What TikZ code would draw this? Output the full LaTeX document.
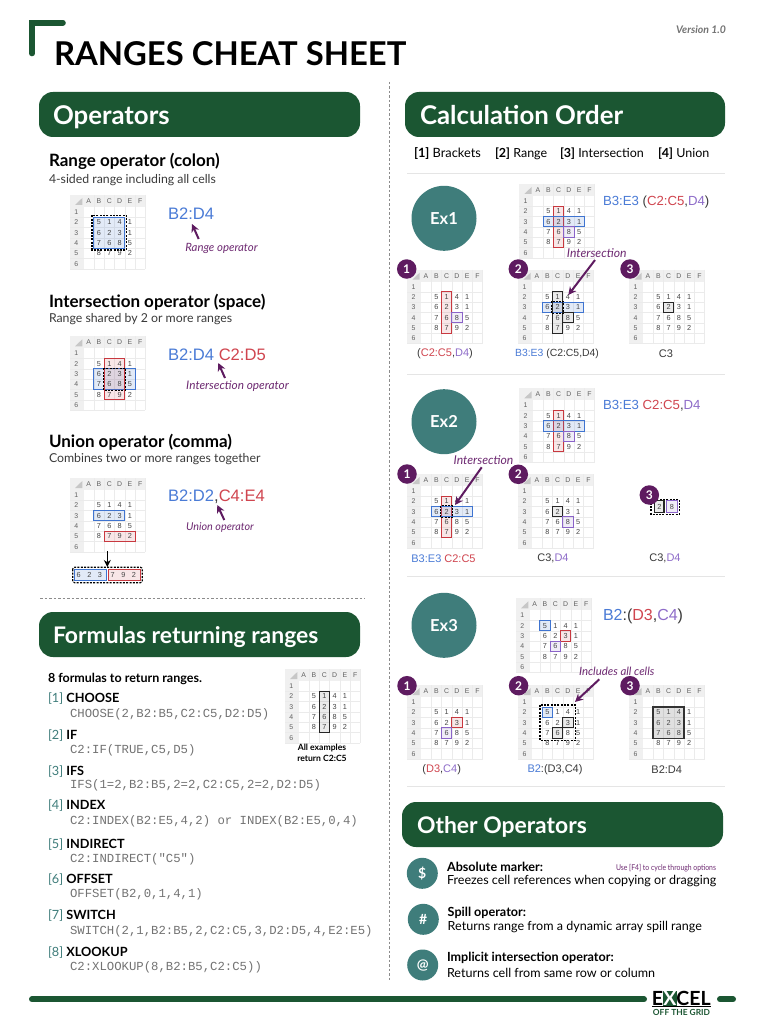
\documentclass[tikz,border=0pt]{standalone}
\usepackage{fontspec}
\setmainfont{Lato}
\newfontfamily\fsans{Liberation Sans}
\newfontfamily\fmono{Liberation Mono}
\usetikzlibrary{arrows.meta}
\definecolor{gbar}{HTML}{1B5632}
\definecolor{teal1}{HTML}{3F7D7B}
\definecolor{purp}{HTML}{5E1B60}
\definecolor{hand}{HTML}{6E2A72}
\definecolor{blueR}{HTML}{3F74D0}
\definecolor{redR}{HTML}{C8383F}
\definecolor{purR}{HTML}{8A63C8}
\definecolor{blueT}{HTML}{4A7BD6}
\definecolor{redT}{HTML}{D0454F}
\definecolor{purT}{HTML}{8E6CC9}
\definecolor{darkT}{HTML}{3A3A3A}
\newcommand\fsz[1]{\fontsize{#1}{#1}\selectfont}
\newcommand\rb[1]{\textcolor{blueT}{#1}}
\newcommand\rr[1]{\textcolor{redT}{#1}}
\newcommand\rp[1]{\textcolor{purT}{#1}}
\newcommand\rk[1]{\textcolor{darkT}{#1}}
\tikzset{
  txt/.style={inner sep=0pt,outer sep=0pt,anchor=west,text=black},
  ctxt/.style={inner sep=0pt,outer sep=0pt,anchor=center,text=black},
  barbox/.style={fill=gbar,draw=none,rounded corners=14pt},
  bartxt/.style={txt,text=white,font=\fsz{25.8}\bfseries},
  bartxts/.style={txt,text=white,font=\fsz{22.9}\bfseries},
  headtxt/.style={txt,font=\fsz{17}\bfseries},
  subtxt/.style={txt,text=darkT,font=\fsz{12.3}},
  formtxt/.style={txt,font=\fsans\fsz{16.6}},
  fmid/.style={txt,font=\fsans\fsz{13.2}},
  captxt/.style={ctxt,font=\fsans\fsz{11}},
  handtxt/.style={ctxt,text=hand,font=\fsz{11.4}\itshape},
  annarrow/.style={draw=purp,line width=2pt,-{Stealth[length=8pt,width=8pt]}},
  excirc/.style={circle,fill=teal1,draw=none,minimum size=65pt,inner sep=0pt,text=white,font=\fsz{16.5}\bfseries},
  numcirc/.style={circle,fill=purp,draw=none,minimum size=19.5pt,inner sep=0pt,text=white,font=\fsz{12}\bfseries},
  opcirc/.style={circle,fill=teal1,draw=none,minimum size=31pt,inner sep=0pt,text=white,font=\fsz{14}\bfseries},
  hdrtxt/.style={inner sep=0pt,text=black!62,font=\fsans\fsz{6.9}},
  digit/.style={inner sep=0pt,text=black!72,font=\fsans\fsz{7.3}},
  rblue/.style={draw=blueR,line width=1pt,fill=blueR,fill opacity=.15},
  rred/.style={draw=redR,line width=1pt,fill=redR,fill opacity=.12},
  rpur/.style={draw=purR,line width=1pt,fill=purR,fill opacity=.12},
  rblk/.style={draw=black!85,line width=1.1pt,fill=black,fill opacity=.08},
  rblkb/.style={draw=black!80,line width=1.4pt,fill=black,fill opacity=.12},
  rdash/.style={draw=black,line width=1.2pt,dash pattern=on 2pt off 1.3pt},
  numtxt/.style={txt,font=\fsz{12.7}},
  codetxt/.style={txt,text=black!55,font=\fmono\fsz{12.3}},
  othertxt/.style={txt,font=\fsz{12.6}\bfseries},
  otherb/.style={txt,font=\fsz{12.55}},
  sepline/.style={draw=black!10,line width=.6pt},
  dsep/.style={draw=black!45,line width=.6pt,dash pattern=on 2.5pt off 2pt},
  endbar/.style={draw=gbar,line width=6pt,line cap=round},
}
\newcommand\rng[5]{\draw[#1] ({13.55+10.3*(#2-1)},{11.8+10.35*(#3-1)}) rectangle ({13.55+10.3*#4},{11.8+10.35*#5});}
\newcommand\rngo[6]{\draw[#1] ({13.55+10.3*(#2-1)-#6},{11.8+10.35*(#3-1)-#6}) rectangle ({13.55+10.3*#4+#6},{11.8+10.35*#5+#6});}
% name, X, Y, ranges
\newcommand\sheet[4]{%
\begin{scope}[shift={(#2,#3)}]
  \fill[black!6] (0,0) rectangle (75.35,11.8);
  \fill[black!6] (0,0) rectangle (13.55,73.9);
  \fill[black!22] (12.3,3) -- (12.3,10) -- (5,10) -- cycle;
  \foreach \k in {1,...,6} \draw[black!8,line width=.4pt] ({13.55+10.3*\k},0) -- ({13.55+10.3*\k},73.9);
  \foreach \k in {1,...,6} \draw[black!8,line width=.4pt] (0,{11.8+10.35*\k}) -- (75.35,{11.8+10.35*\k});
  \foreach \h [count=\c] in {A,B,C,D,E,F} \node[hdrtxt] (#1-h\c) at ({18.7+10.3*(\c-1)},6.2) {\h};
  \foreach \r in {1,...,6} \node[hdrtxt] (#1-r\r) at (6.3,{17+10.35*(\r-1)}) {\r};
  #4
  \foreach \vals [count=\r from 2] in {{5,1,4,1},{6,2,3,1},{7,6,8,5},{8,7,9,2}}
    \foreach \v [count=\c from 2] in \vals
      \node[digit] (#1-\c-\r) at ({18.7+10.3*(\c-1)},{17+10.35*(\r-1)}) {\v};
\end{scope}}
\begin{document}
\begin{tikzpicture}[x=1pt,y=-1pt]
\useasboundingbox (0,0) rectangle (768,1024);
\fill[white] (0,0) rectangle (768,1024);
% header
\draw[draw=gbar,line width=5.6pt,line cap=round] (32,53.5) -- (32,22.8) -- (63,22.8);
\node[txt,font=\fsz{32.8}\bfseries] (title) at (54,54) {RANGES CHEAT SHEET};
\node[txt,text=black!55,font=\fsz{10.5}\bfseries\itshape,anchor=east] (version) at (726,30) {Version 1.0};
% dividers
\draw[dsep] (389,82) -- (389,980);
\draw[dsep] (40,598) -- (365,598);
\draw[sepline] (407,173) -- (725,173);
\draw[sepline] (407,374) -- (725,374);
\draw[sepline] (407,576) -- (725,576);
\draw[sepline] (407,786) -- (725,786);
% bars
\fill[barbox] (39,92) rectangle (360,137);
\node[bartxt] (h-op) at (53,117.5) {Operators};
\fill[barbox] (405,92) rectangle (725,137);
\node[bartxt] (h-calc) at (420,115) {Calculation Order};
\fill[barbox] (39,612) rectangle (360,657);
\node[bartxts] (h-form) at (53,637) {Formulas returning ranges};
\fill[barbox] (402,802) rectangle (723,847);
\node[bartxts] (h-other) at (417,826.5) {Other Operators};
% range operator
\node[headtxt] (t1) at (49,161.5) {Range operator (colon)};
\node[subtxt] (t1s) at (49,180) {4-sided range including all cells};
\sheet{s1}{70}{195}{\rng{rblue}{2}{2}{4}{4}\rngo{rdash}{2}{2}{4}{4}{1.8}}
\node[formtxt] (f1) at (168,214) {\rb{B2:D4}};
\coordinate (a1s) at (198.7,239); \coordinate (a1e) at (192,224);
\draw[annarrow] (a1s) -- (a1e);
\node[handtxt] (l1) at (221.5,248.5) {Range operator};
% intersection operator
\node[headtxt] (t2) at (49,302) {Intersection operator (space)};
\node[subtxt] (t2s) at (49,319) {Range shared by 2 or more ranges};
\sheet{s2}{70}{336.3}{\rng{rblue}{2}{3}{5}{4}\rng{rred}{3}{2}{4}{5}\rngo{rdash}{3}{3}{4}{4}{0.6}}
\node[formtxt] (f2) at (168,355) {\rb{B2:D4} \rr{C2:D5}};
\coordinate (a2s) at (225,378); \coordinate (a2e) at (218.3,363);
\draw[annarrow] (a2s) -- (a2e);
\node[handtxt,font=\fsz{11.8}\itshape] (l2) at (237.5,386) {Intersection operator};
% union operator
\node[headtxt] (t3) at (49,442) {Union operator (comma)};
\node[subtxt] (t3s) at (49,459) {Combines two or more ranges together};
\sheet{s3}{70}{478}{\rng{rblue}{2}{3}{4}{3}\rng{rred}{3}{5}{5}{5}}
\node[formtxt] (f3) at (168,497) {\rb{B2:D2}\rk{,}\rr{C4:E4}};
\coordinate (a3s) at (224.3,520); \coordinate (a3e) at (217.3,505);
\draw[annarrow] (a3s) -- (a3e);
\node[handtxt,font=\fsz{10.8}\itshape] (l3) at (220,527) {Union operator};
\coordinate (u-s) at (107.3,551); \coordinate (u-e) at (107.3,567);
\draw[draw=black,line width=1.6pt,-{Stealth[length=7pt,width=7pt]}] (u-s) -- (u-e);
\draw[rblue] (74.3,569.3) rectangle (106.7,580.7);
\draw[rred] (108.3,569.3) rectangle (140,580.7);
\draw[rdash,rounded corners=2pt] (72.7,567.3) rectangle (142.3,582.7);
\node[digit] (ua) at (78.7,575) {6};
\node[digit] (ub) at (89.3,575) {2};
\node[digit] (uc) at (100,575) {3};
\node[digit] (ud) at (112.7,575) {7};
\node[digit] (ue) at (123.3,575) {9};
\node[digit] (uf) at (134,575) {2};
% formulas
\node[txt,font=\fsz{12.5}\bfseries] (ftitle) at (48,679) {8 formulas to return ranges.};
\sheet{s4}{285}{669}{\rng{rblk}{3}{2}{3}{5}}
\node[ctxt,font=\fsz{8.6}\bfseries] (fn1) at (322,748) {All examples};
\node[ctxt,font=\fsz{8.6}\bfseries] (fn2) at (322,758) {return C2:C5};
\foreach \i/\nm/\yy/\cd/\yc in {
 1/CHOOSE/699/{CHOOSE(2,B2:B5,C2:C5,D2:D5)}/714,
 2/IF/736/{C2:IF(TRUE,C5,D5)}/750.7,
 3/IFS/771.7/{IFS(1=2,B2:B5,2=2,C2:C5,2=2,D2:D5)}/785,
 4/INDEX/806/{C2:INDEX(B2:E5,4,2) or INDEX(B2:E5,0,4)}/821,
 5/INDIRECT/845/{C2:INDIRECT("C5")}/859,
 6/OFFSET/880/{OFFSET(B2,0,1,4,1)}/894,
 7/SWITCH/916/{SWITCH(2,1,B2:B5,2,C2:C5,3,D2:D5,4,E2:E5)}/931,
 8/XLOOKUP/953/{C2:XLOOKUP(8,B2:B5,C2:C5))}/967}{
  \node[numtxt] (fl\i) at (48,\yy) {\textcolor{teal1}{[\i]} \textbf{\nm}};
  \node[codetxt] (fc\i) at (70,\yc) {\cd};
}
% calculation order
\node[txt,font=\fsz{12.8}] (c1) at (414,154) {\textbf{[1]} Brackets};
\node[txt,font=\fsz{12.5}] (c2) at (495,154) {\textbf{[2]} Range};
\node[txt,font=\fsz{12.5}] (c3) at (560,154) {\textbf{[3]} Intersection};
\node[txt,font=\fsz{12.5}] (c4) at (658,154) {\textbf{[4]} Union};
% Ex1
\node[excirc] (ex1) at (444,218.3) {Ex1};
\sheet{e1m}{519.3}{184}{\rng{rred}{3}{2}{3}{5}\rng{rblue}{2}{3}{5}{3}\rng{rpur}{4}{4}{4}{4}}
\node[fmid] (e1f) at (603,201.7) {\rb{B3:E3} \rk{(}\rr{C2:C5}\rk{,}\rp{D4}\rk{)}};
\sheet{e1a}{407.3}{269.7}{\rng{rred}{3}{2}{3}{5}\rng{rpur}{4}{4}{4}{4}}
\sheet{e1b}{518.3}{269.7}{\rng{rblue}{2}{3}{5}{3}\rng{rblk}{3}{2}{3}{5}\rng{rblk}{4}{4}{4}{4}\rngo{rdash}{3}{3}{3}{3}{1}}
\sheet{e1c}{629.3}{269.7}{\rng{rblk}{3}{3}{3}{3}}
\node[numcirc] (e1n1) at (406.7,269) {1};
\node[numcirc] (e1n2) at (518.3,269) {2};
\node[numcirc] (e1n3) at (630,269) {3};
\node[handtxt,font=\fsz{12.2}\itshape] (e1l) at (596.7,253) {Intersection};
\coordinate (e1s) at (595,260); \coordinate (e1e) at (568.3,295);
\draw[annarrow] (e1s) -- (e1e);
\node[captxt] (e1c1) at (445,354) {\rk{(}\rr{C2:C5}\rk{,}\rp{D4}\rk{)}};
\node[captxt,font=\fsans\fsz{10.4}] (e1c2) at (557,354) {\rb{B3:E3} \rk{(C2:C5,D4)}};
\node[captxt] (e1c3) at (666,354) {\rk{C3}};
% Ex2
\node[excirc] (ex2) at (444,421.7) {Ex2};
\sheet{e2m}{519.3}{388.3}{\rng{rred}{3}{2}{3}{5}\rng{rblue}{2}{3}{5}{3}\rng{rpur}{4}{4}{4}{4}}
\node[fmid] (e2f) at (603,405.7) {\rb{B3:E3} \rr{C2:C5}\rk{,}\rp{D4}};
\sheet{e2a}{407.3}{474}{\rng{rred}{3}{2}{3}{5}\rng{rblue}{2}{3}{5}{3}\rngo{rdash}{3}{3}{3}{3}{1}}
\sheet{e2b}{518.3}{474}{\rng{rblk}{3}{3}{3}{3}\rng{rpur}{4}{4}{4}{4}}
\node[numcirc] (e2n1) at (407,474) {1};
\node[numcirc] (e2n2) at (518.3,474.3) {2};
\draw[rblk] (654.3,500.7) rectangle (664,512.7);
\draw[rpur] (666.7,500.7) rectangle (677.3,512.7);
\draw[rdash] (651,499.3) rectangle (679.3,514.3);
\node[digit] (e2d1) at (659.3,506.7) {2};
\node[digit] (e2d2) at (672,506.7) {8};
\node[numcirc] (e2n3) at (649.3,495) {3};
\node[handtxt,font=\fsz{12.2}\itshape] (e2l) at (483.5,460) {Intersection};
\coordinate (e2s) at (481.7,467.3); \coordinate (e2e) at (455,505);
\draw[annarrow] (e2s) -- (e2e);
\node[captxt] (e2c1) at (443.5,558.7) {\rb{B3:E3} \rr{C2:C5}};
\node[captxt] (e2c2) at (553,558.7) {\rk{C3,}\rp{D4}};
\node[captxt] (e2c3) at (665,558.7) {\rk{C3,}\rp{D4}};
% Ex3
\node[excirc] (ex3) at (444,625.3) {Ex3};
\sheet{e3m}{516}{598.3}{\rng{rblue}{2}{2}{2}{2}\rng{rred}{4}{3}{4}{3}\rng{rpur}{3}{4}{3}{4}}
\node[formtxt,font=\fsans\fsz{16}] (e3f) at (603,616.7) {\rb{B2}\rk{:(}\rr{D3}\rk{,}\rp{C4}\rk{)}};
\sheet{e3a}{407.3}{685}{\rng{rred}{4}{3}{4}{3}\rng{rpur}{3}{4}{3}{4}}
\sheet{e3b}{518.3}{685}{\rng{rblue}{2}{2}{2}{2}\rng{rblk}{4}{3}{4}{3}\rng{rblk}{3}{4}{3}{4}\rngo{rdash}{2}{2}{4}{4}{2.2}}
\sheet{e3c}{629.3}{685}{\rng{rblkb}{2}{2}{4}{4}}
\node[numcirc] (e3n1) at (407,685.7) {1};
\node[numcirc] (e3n2) at (518.6,685.7) {2};
\node[numcirc] (e3n3) at (630,685.7) {3};
\node[handtxt] (e3l) at (616.7,671) {Includes all cells};
\coordinate (e3s) at (599.3,679.3); \coordinate (e3e) at (575,702);
\draw[annarrow] (e3s) -- (e3e);
\node[captxt] (e3c1) at (441.7,769.3) {\rk{(}\rr{D3}\rk{,}\rp{C4}\rk{)}};
\node[captxt] (e3c2) at (555,769.3) {\rb{B2}\rk{:(D3,C4)}};
\node[captxt] (e3c3) at (666.7,769.3) {\rk{B2:D4}};
% other operators
\node[opcirc] (o1) at (422.3,873.3) {\$};
\node[opcirc] (o2) at (423.3,919.3) {\#};
\node[opcirc] (o3) at (422.7,965) {@};
\node[othertxt] (o1a) at (447,867) {Absolute marker:};
\node[otherb] (o1b) at (447,881.5) {Freezes cell references when copying or dragging};
\node[txt,text=hand,font=\fsz{8}] (o1n) at (616,868) {\scalebox{.855}[1]{Use [F4] to cycle through options}};
\node[othertxt] (o2a) at (447.7,912.5) {Spill operator:};
\node[otherb] (o2b) at (447.7,927) {Returns range from a dynamic array spill range};
\node[othertxt] (o3a) at (447,958) {Implicit intersection operator:};
\node[otherb] (o3b) at (447,972.5) {Returns cell from same row or column};
% footer
\draw[endbar] (32,999.3) -- (644,999.3);
\draw[endbar] (720,999.3) -- (733,999.3);
\fill[gbar] (663,991) rectangle (676.7,1005.5);
\node[ctxt,font=\fsz{19.5}\bfseries] (logoe) at (657.5,998) {E};
\node[ctxt,text=white,font=\fsz{19.5}\bfseries] (logox) at (669.8,998) {X};
\node[ctxt,font=\fsz{19.5}\bfseries] (logoc) at (693.5,998) {CEL};
\draw[black,line width=.8pt] (652.3,1006) -- (710.7,1006);
\node[ctxt,text=gbar,font=\fsz{8.4}\bfseries] (logog) at (681.5,1012) {OFF THE GRID};
\end{tikzpicture}
\end{document}
